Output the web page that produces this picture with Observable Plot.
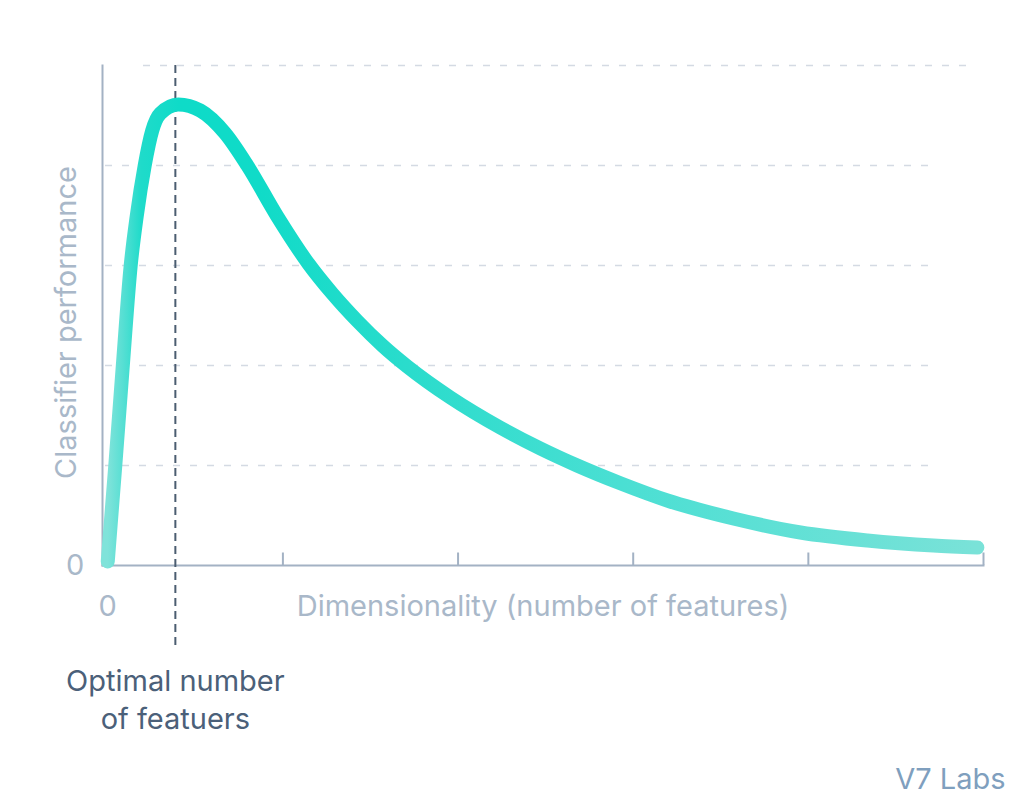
<!DOCTYPE html>
<html>
<head>
<meta charset="utf-8">
<script src="https://cdn.jsdelivr.net/npm/d3@7"></script>
<script src="https://cdn.jsdelivr.net/npm/@observablehq/plot@0.6"></script>
<style>
  html, body { margin: 0; padding: 0; background: #ffffff; }
  #chart { width: 1024px; height: 806px; }
  svg { display: block; }
</style>
</head>
<body>
<div id="chart"></div>
<script>
// ---- data ----
const curveX = [0, 0.043, 0.086, 0.131, 0.166, 0.211, 0.254, 0.300, 0.403, 0.528, 0.671, 0.797, 0.968, 1.145, 1.282, 1.425, 1.568, 1.71, 1.956, 2.24, 2.47, 2.68, 2.93, 3.195, 3.572, 3.955, 4.337, 4.714, 4.965];
const curveY = [0.04, 1.0, 2.0, 3.0, 3.5, 4.0, 4.35, 4.52, 4.61, 4.55, 4.32, 4.0, 3.49, 3.02, 2.72, 2.445, 2.20, 1.99, 1.68, 1.38, 1.17, 1.0, 0.82, 0.65, 0.47, 0.33, 0.25, 0.20, 0.18];
const xTicks = [1, 2, 3, 4, 5];
const xTickLabels = [0];
const yTickLabels = [0];
const gridLow = [1, 2, 3, 4];
const gridTop = [5];
const optimalX = [0.386];
const xLabel = "Dimensionality (number of features)";
const yLabel = "Classifier performance";
const optimalLabel = "Optimal number\nof featuers";
const creditLabel = "V7 Labs";
const gradStopX = [0, 0.09, 0.19, 0.42, 0.87, 1.71, 2.93, 4.97];
const gradStopColor = ["#80e3da", "#55dfd3", "#1fdbca", "#0edbc8", "#10dbc8", "#2adccc", "#4adfd3", "#7ae2d8"];

const curve = curveX.map((x, i) => ({x, y: curveY[i]}));

const axisColor = "#a3b2c4";
const textColor = "#a9b8c9";
const font = "Inter, 'Noto Sans', sans-serif";
const fs = 29;

const plot = Plot.plot({
  width: 1024,
  height: 806,
  marginLeft: 102,
  marginRight: 41,
  marginTop: 65,
  marginBottom: 241,
  style: {fontFamily: font, background: "#ffffff", overflow: "visible"},
  x: {domain: [-0.03, 5], axis: null},
  y: {domain: [0, 5], axis: null},
  marks: [
    Plot.ruleY(gridLow, {stroke: "#d4dae3", strokeWidth: 1.5, strokeDasharray: "7,10", insetLeft: 3, insetRight: 46}),
    Plot.ruleY(gridTop, {stroke: "#d4dae3", strokeWidth: 1.5, strokeDasharray: "7,10", insetLeft: 41, insetRight: 8}),
    Plot.frame({anchor: "left", stroke: axisColor, strokeWidth: 2}),
    Plot.frame({anchor: "bottom", stroke: axisColor, strokeWidth: 2}),
    Plot.ruleX(xTicks, {y1: 0, y2: 0.125, stroke: axisColor, strokeWidth: 2}),
    Plot.ruleX(optimalX, {stroke: "#4b5d70", strokeWidth: 2, strokeDasharray: "8,5", insetBottom: -80}),
    Plot.line(curve, {x: "x", y: "y", curve: "monotone-x", stroke: "url(#curveGrad)", strokeWidth: 14, strokeLinecap: "round", strokeLinejoin: "round"}),
    Plot.axisX({ticks: xTickLabels, tickSize: 0, tickPadding: 30, fontSize: fs, fill: textColor, label: null, tickFormat: d => String(d)}),
    Plot.axisY({ticks: yTickLabels, tickSize: 0, tickPadding: 18, fontSize: fs, fill: textColor, label: null, tickFormat: d => String(d)}),
    Plot.text([xLabel], {frameAnchor: "bottom", dy: 50, fontSize: fs, fill: textColor}),
    Plot.text([yLabel], {frameAnchor: "left", textAnchor: "middle", rotate: -90, dx: -36, dy: 7, fontSize: fs, fill: textColor}),
    Plot.text([optimalLabel], {x: optimalX[0], frameAnchor: "bottom", lineAnchor: "top", dy: 99, lineHeight: 1.31, fontSize: fs, fill: "#4b6079"}),
    Plot.text([creditLabel], {frameAnchor: "bottom-right", textAnchor: "end", lineAnchor: "bottom", dx: 22, dy: 223, fontSize: fs, fill: "#7f9fbe"})
  ]
});

const xs = plot.scale("x");
const x0 = xs.apply(0), x1 = xs.apply(5);
const stops = gradStopX.map((v, i) =>
  `<stop offset="${((xs.apply(v) - x0) / (x1 - x0)).toFixed(4)}" stop-color="${gradStopColor[i]}"/>`).join("");
plot.insertAdjacentHTML("afterbegin",
  `<defs><linearGradient id="curveGrad" gradientUnits="userSpaceOnUse" x1="${x0}" y1="0" x2="${x1}" y2="0">${stops}</linearGradient></defs>`);

document.getElementById("chart").appendChild(plot);
</script>
</body>
</html>
